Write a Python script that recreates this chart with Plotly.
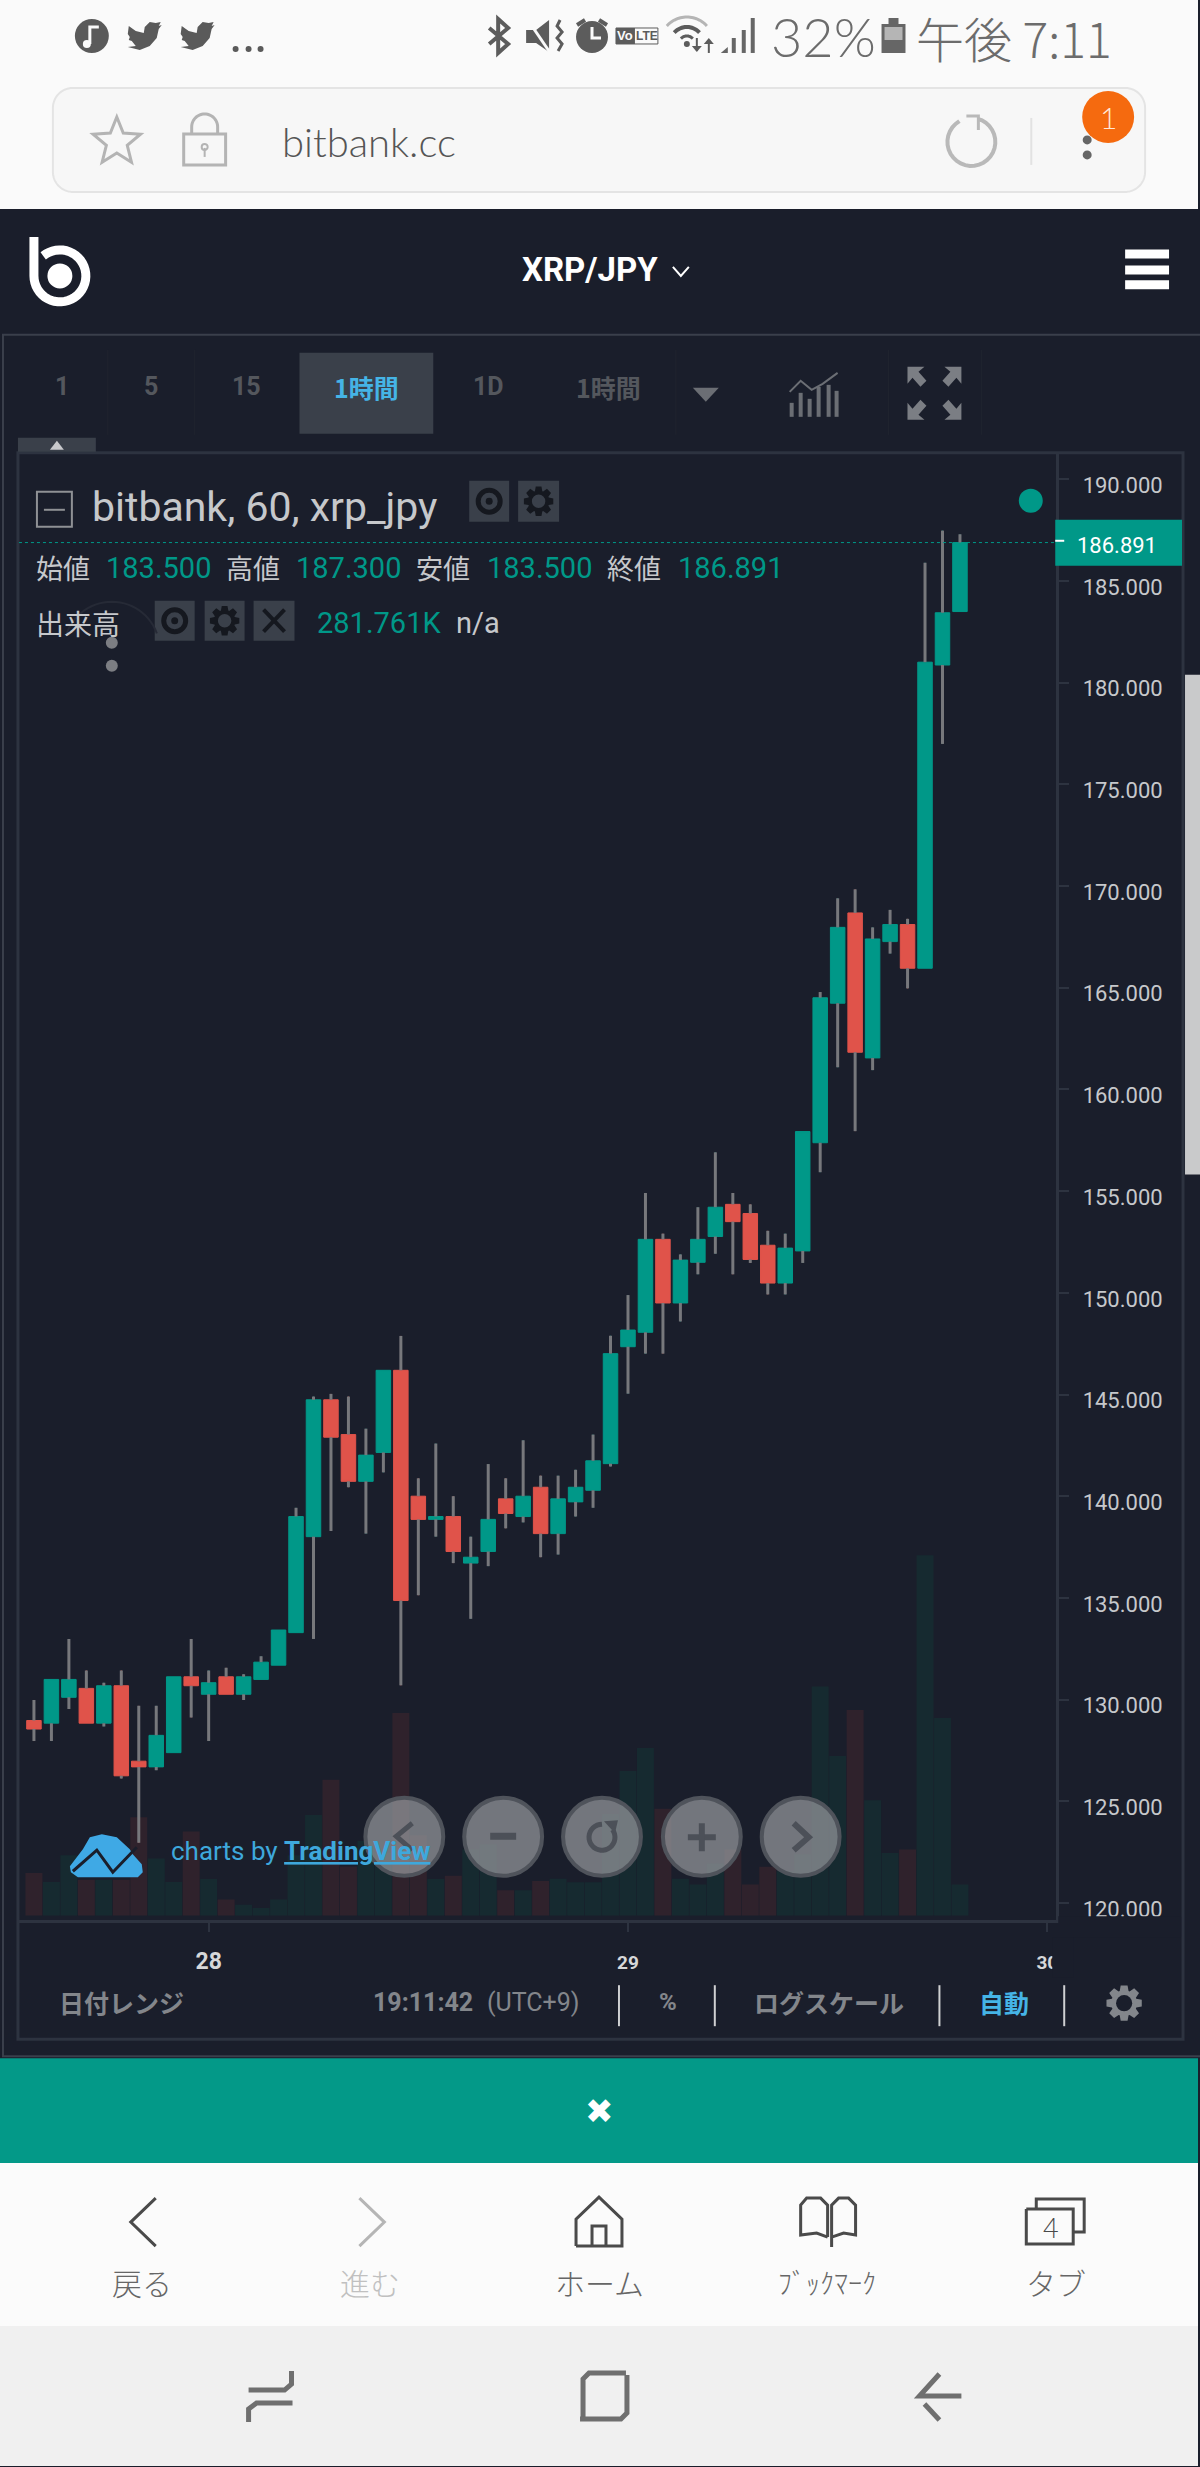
import math
import plotly.graph_objects as go

# candles (1h, xrp_jpy)
opens = [128.97, 128.84, 130.11, 130.55, 128.84, 130.68, 126.97, 126.69, 127.39, 131.12,
         130.26, 131.12, 130.26, 130.99, 131.69, 133.29, 138.01, 144.74, 143.03, 140.73,
         142.15, 146.19, 140.00, 138.86, 139.00, 136.71, 137.28, 139.87, 139.00, 140.44,
         138.16, 139.72, 140.29, 141.60, 147.35, 148.06, 152.63, 149.50, 151.50, 152.77,
         154.35, 153.90, 152.34, 150.48, 152.06, 157.38, 164.24, 168.68, 161.55, 167.27,
         168.11, 165.96, 180.87, 183.50]
highs = [129.98, 130.99, 132.98, 131.43, 130.83, 131.43, 129.69, 129.69, 131.12, 132.98,
         131.43, 131.56, 131.25, 132.13, 133.42, 139.43, 144.90, 145.03, 144.90, 143.32,
         146.19, 147.88, 140.88, 142.59, 140.00, 138.01, 141.58, 140.88, 142.75, 141.01,
         141.01, 141.30, 143.03, 147.89, 149.89, 154.91, 152.91, 151.89, 154.21, 156.91,
         154.91, 154.35, 153.05, 152.91, 157.93, 164.79, 169.40, 169.84, 167.97, 168.83,
         168.39, 185.90, 187.48, 187.30]
lows = [127.96, 127.96, 129.54, 128.84, 128.68, 126.12, 122.96, 126.53, 127.39, 129.12,
        127.96, 130.26, 129.98, 130.99, 131.69, 133.29, 132.98, 138.29, 140.44, 138.16,
        141.17, 130.70, 135.13, 138.01, 136.71, 133.97, 136.56, 138.42, 138.71, 137.00,
        137.13, 139.00, 139.43, 141.46, 145.04, 147.01, 147.01, 148.59, 150.91, 151.92,
        150.91, 151.47, 149.92, 149.92, 151.47, 155.93, 161.09, 157.95, 160.95, 166.68,
        164.97, 165.96, 176.99, 183.50]
closes = [128.55, 130.99, 130.99, 128.84, 130.68, 126.25, 126.69, 128.24, 131.12, 130.68,
          130.83, 130.26, 131.12, 131.84, 133.42, 139.00, 144.74, 142.90, 140.73, 142.02,
          146.19, 134.87, 138.86, 139.00, 137.28, 137.00, 138.86, 139.15, 140.00, 138.16,
          139.87, 140.44, 141.74, 147.01, 148.17, 152.63, 149.50, 151.61, 152.63, 154.21,
          153.50, 151.64, 150.48, 152.20, 157.93, 164.51, 167.97, 161.83, 167.40, 168.11,
          165.96, 181.01, 183.44, 186.891]
volumes = [386, 304, 548, 325, 325, 325, 893, 519, 304, 763, 333, 146, 97, 69, 146, 548, 913, 1234,
           446, 678, 568, 1842, 730, 333, 361, 601, 649, 230, 230, 313, 334, 303, 303, 924, 1315,
           1524, 971, 334, 282, 470, 600, 282, 444, 402, 558, 2082, 1451, 1868, 1049, 569, 600,
           3277, 1795, 281.761]

price_ticks = [120, 125, 130, 135, 140, 145, 150, 155, 160, 165, 170, 175, 180, 185, 190]
day_ticks = [10, 34, 58]
day_labels = ['<span style="font-size:23px">28</span>', "29", "30"]

W, H = 1200, 2467
BG = "#1a1e2b"
TEAL = "#009888"
RED = "#e0534a"
WICK = "#77787c"
FRAME = "#2d3340"
TXT = "#c6c8cb"
BLUE = "#45b4e6"
BTN = "#3a404a"
JP = "Noto Sans CJK JP"

x_idx = list(range(len(closes)))

# grey wicks go on top of the candle bodies
wick_x, wick_y = [], []
for i in x_idx:
    wick_x += [i, i, None, i, i, None]
    wick_y += [highs[i], max(opens[i], closes[i]), None, min(opens[i], closes[i]), lows[i], None]

vol_colors = ["#162a30" if c >= o else "#2f222c" for o, c in zip(opens, closes)]

fig = go.Figure()
fig.add_trace(go.Bar(x=x_idx, y=volumes, marker_color=vol_colors, marker_line_width=0, yaxis="y"))
fig.add_trace(go.Candlestick(
    x=x_idx, open=opens, high=highs, low=lows, close=closes, yaxis="y2", whiskerwidth=0,
    increasing=dict(line=dict(color=TEAL, width=1), fillcolor=TEAL),
    decreasing=dict(line=dict(color=RED, width=1), fillcolor=RED),
))
fig.add_trace(go.Scatter(x=wick_x, y=wick_y, mode="lines", yaxis="y2",
                         line=dict(color=WICK, width=3)))

shapes = []
notes = []


def P(x, y):
    return f"{x / W:.5f} {1 - y / H:.5f}"


def rect(x0, y0, x1, y1, fill=None, line=None, width=1, layer="above"):
    shapes.append(dict(type="rect", xref="paper", yref="paper", x0=x0 / W, x1=x1 / W,
                       y0=1 - y0 / H, y1=1 - y1 / H, fillcolor=fill or "rgba(0,0,0,0)", layer=layer,
                       line=dict(color=line or "rgba(0,0,0,0)", width=width if line else 0)))


def circle(cx, cy, r, fill=None, line=None, width=1, layer="above"):
    shapes.append(dict(type="circle", xref="paper", yref="paper", x0=(cx - r) / W, x1=(cx + r) / W,
                       y0=1 - (cy - r) / H, y1=1 - (cy + r) / H, fillcolor=fill or "rgba(0,0,0,0)",
                       layer=layer, line=dict(color=line or "rgba(0,0,0,0)", width=width if line else 0)))


def poly(pts, fill=None, line=None, width=1, closed=False, layer="above"):
    d = "M " + " L ".join(P(x, y) for x, y in pts) + (" Z" if closed else "")
    shapes.append(dict(type="path", xref="paper", yref="paper", path=d, layer=layer,
                       fillcolor=fill or "rgba(0,0,0,0)",
                       line=dict(color=line or "rgba(0,0,0,0)", width=width if line else 0)))


def arc(cx, cy, r, a0, a1, n=28):
    return [(cx + r * math.cos(math.radians(a0 + (a1 - a0) * k / n)),
             cy + r * math.sin(math.radians(a0 + (a1 - a0) * k / n))) for k in range(n + 1)]


def label(x, y, text, size, color=TXT, anchor="left", font="Roboto", weight=None):
    f = dict(size=size, color=color, family=font)
    if weight:
        f["weight"] = weight
    notes.append(dict(x=x / W, y=1 - y / H, xref="paper", yref="paper", text=text, showarrow=False,
                      xanchor=anchor, yanchor="middle", borderpad=0, font=f))


def gear(cx, cy, r, color, inner):
    pts = []
    for k in range(8):
        a = k * 45
        pts += [(cx + r * math.cos(math.radians(a + d)), cy + r * math.sin(math.radians(a + d)))
                for d in (-11, 11)]
        pts += [(cx + r * .72 * math.cos(math.radians(a + d)), cy + r * .72 * math.sin(math.radians(a + d)))
                for d in (20, 25)]
    poly(pts, fill=color, closed=True)
    circle(cx, cy, r * .45, fill=inner)


def eye_btn(x0, y0, x1, y1):
    rect(x0, y0, x1, y1, fill=BTN)
    cx, cy = (x0 + x1) / 2, (y0 + y1) / 2
    circle(cx, cy, 11, line="#15181f", width=5)
    circle(cx, cy, 3.5, fill="#15181f")


def gear_btn(x0, y0, x1, y1):
    rect(x0, y0, x1, y1, fill=BTN)
    gear((x0 + x1) / 2, (y0 + y1) / 2, 15, "#15181f", BTN)


def bird(x, y, color="#5a5a5a"):
    pts = [(-17, 12), (-9, 11), (-13, 6), (-16, 5), (-15, 2), (-17, -1), (-16, -9), (-9, -4), (-1, -2),
           (0, -8), (5, -13), (11, -12), (16, -13), (14, -9), (17, -10), (14, -6), (12, 3), (5, 11),
           (-5, 15)]
    poly([(x + a, y + b) for a, b in pts], fill=color, closed=True)


# page background bands
rect(0, 0, W, 209, fill="#fafafa", layer="below")
rect(0, 2059, W, 2164, fill="#039988", layer="below")
rect(0, 2164, W, 2327, fill="#fbfbfb", layer="below")
rect(0, 2327, W, H, fill="#f0f0f0", layer="below")
rect(3, 335, W + 5, 2057, line="#3a3f4b", width=2, layer="below")
rect(18, 453, 1185, 2040, line=FRAME, width=3, layer="below")

# status bar
circle(92, 36, 17, fill="#5a5a5a")
poly([(90, 44), (90, 27), (99, 27)], line="#fafafa", width=3)
circle(87, 44, 4, fill="#fafafa")
bird(145, 35)
bird(198, 35)
for dx in (236, 249, 261):
    circle(dx, 49, 3, fill="#5a5a5a")
poly([(490, 28), (509, 44), (499, 53), (499, 19), (509, 28), (490, 44)], line="#5c5c5c", width=4)
poly([(527, 30), (537, 30), (550, 20), (550, 52), (537, 43), (527, 43)], fill="#5c5c5c", closed=True)
poly([(530, 22), (552, 54)], line="#fafafa", width=3)
poly([(561, 20), (558, 26), (563, 32), (558, 38), (563, 44), (559, 51)], line="#5c5c5c", width=3)
circle(593, 37, 16, fill="#5c5c5c")
poly([(593, 27), (593, 38), (602, 38)], line="#fafafa", width=3)
poly([(578, 25), (586, 20)], line="#5c5c5c", width=4)
poly([(600, 20), (608, 25)], line="#5c5c5c", width=4)
rect(617, 28, 659, 44, fill="#fafafa", line="#5c5c5c", width=1)
rect(617, 28, 636, 44, fill="#5c5c5c")
label(626.5, 36, "<b>Vo</b>", 13, "#fafafa", "center", "Liberation Sans")
label(648, 36, "<b>LTE</b>", 12, "#5c5c5c", "center", "Liberation Sans")
poly(arc(688, 44, 27, 222, 318), line="#b5b5b5", width=3)
poly(arc(688, 44, 17, 222, 318), line="#5c5c5c", width=4)
poly(arc(688, 44, 8, 222, 318), line="#5c5c5c", width=3)
circle(688, 44, 3, fill="#5c5c5c")
poly([(698, 38), (698, 51)], line="#5c5c5c", width=2)
poly([(693, 46), (698, 52), (703, 46)], fill="#5c5c5c", closed=True)
poly([(710, 42), (710, 53)], line="#5c5c5c", width=2)
poly([(705, 44), (710, 38), (715, 44)], fill="#5c5c5c", closed=True)
poly([(722, 53), (729, 53), (729, 47)], fill="#666", closed=True)
for sx, top in ((735, 38), (745, 30), (754, 18)):
    poly([(sx, 53), (sx, top)], line="#666", width=4)
label(771, 37, "32%", 54, "#6c6c6c", "left", "Lato", 300)
rect(883, 24, 907, 53, fill="#666")
rect(890, 18, 900, 24, fill="#666")
rect(886, 27, 904, 40, fill="#b5b5b5")
label(917, 37, "午後 7:11", 48, "#6c6c6c", "left", JP, 300)

# address bar
shapes.append(dict(type="path", xref="paper", yref="paper", fillcolor="#f7f7f7", layer="below",
                   line=dict(color="#e4e4e4", width=2),
                   path="M " + " L ".join(P(x, y) for x, y in
                                          arc(73, 108, 20, 180, 270) + arc(1127, 108, 20, 270, 360) +
                                          arc(1127, 172, 20, 0, 90) + arc(73, 172, 20, 90, 180)) + " Z"))
star = []
for k in range(10):
    r = 25 if k % 2 == 0 else 11
    star.append((117 + r * math.cos(math.radians(-90 + k * 36)), 142 + r * math.sin(math.radians(-90 + k * 36))))
poly(star, line="#b4b4b4", width=3, closed=True)
rect(184, 134, 226, 165, line="#b4b4b4", width=3)
poly([(192, 134), (192, 127)] + arc(205, 127, 13, 180, 360) + [(218, 134)], line="#b4b4b4", width=3)
poly([(205, 148), (205, 157)], line="#b4b4b4", width=2)
circle(205, 147, 3, line="#b4b4b4", width=2)
label(281, 142, "bitbank.cc", 40, "#555555", "left", "Lato", 300)
poly(arc(973, 142, 24, -75, 240), line="#b9b9b9", width=4)
poly([(968, 116), (980, 116), (980, 130)], line="#b9b9b9", width=3)
poly([(1033, 118), (1033, 165)], line="#e2e2e2", width=2)
circle(1089, 140, 4.5, fill="#666")
circle(1089, 155, 4.5, fill="#666")
circle(1110, 117, 26, fill="#f56a0f")
label(1110, 117, "1", 30, "#ffe7d8", "center", "Lato", 300)

# site header
poly([(34, 237), (34, 276)] + arc(60, 276, 26, 180, -130, 40), line="#ffffff", width=9)
circle(60, 276, 12.5, fill="#ffffff")
label(591, 270, "<b>XRP/JPY</b>", 33, "#ffffff", "center", "Roboto")
poly([(674, 267), (682, 276), (690, 267)], line="#ffffff", width=2)
for yy in (254, 270, 285):
    poly([(1127, yy), (1171, yy)], line="#ffffff", width=9)

# interval toolbar
for sx in (108, 195, 677, 890, 983):
    poly([(sx, 350), (sx, 435)], line="#20242f", width=1)
rect(300, 353, 434, 434, fill=BTN)
GREY_T = "#54575d"
label(62, 387, "<b>1</b>", 25, GREY_T, "center")
label(151, 387, "<b>5</b>", 25, GREY_T, "center")
label(247, 387, "<b>15</b>", 25, GREY_T, "center")
label(367, 387, "<b>1時間</b>", 25, BLUE, "center", JP)
label(489, 387, "<b>1D</b>", 25, GREY_T, "center")
label(610, 387, "<b>1時間</b>", 25, GREY_T, "center", JP)
poly([(694, 388), (720, 388), (707, 402)], fill="#6b6e74", closed=True)
for bx, bh in ((793, 14), (802, 24), (811, 18), (820, 30), (830, 32), (838, 26)):
    poly([(bx, 417), (bx, 417 - bh)], line="#6b6e74", width=4)
poly([(791, 392), (802, 381), (813, 390), (824, 384), (839, 373)], line="#6b6e74", width=2)
for ax, ay, sx, sy in ((909, 367, 1, 1), (963, 367, -1, 1), (909, 420, 1, -1), (963, 420, -1, -1)):
    poly([(ax, ay), (ax + 17 * sx, ay), (ax + 11 * sx, ay + 5 * sy), (ax + 19 * sx, ay + 14 * sy),
          (ax + 13 * sx, ay + 20 * sy), (ax + 5 * sx, ay + 11 * sy), (ax, ay + 17 * sy)],
         fill="#7b7e84", closed=True)
rect(18, 438, 96, 452, fill=BTN)
poly([(50, 450), (64, 450), (57, 441)], fill="#c8c9cc", closed=True)

# legend rows
rect(37, 492, 72, 527, line="#8f9195", width=2)
poly([(44, 510), (65, 510)], line="#8f9195", width=2)
label(91, 507, "bitbank, 60, xrp_jpy", 41, TXT)
eye_btn(470, 481, 510, 522)
gear_btn(519, 481, 560, 522)
circle(1032.5, 501, 12, fill=TEAL)

label(35, 568, "始値", 27, TXT, "left", JP)
label(105, 568, "183.500", 29, TEAL)
label(225, 568, "高値", 27, TXT, "left", JP)
label(295, 568, "187.300", 29, TEAL)
label(416, 568, "安値", 27, TXT, "left", JP)
label(487, 568, "183.500", 29, TEAL)
label(607, 568, "終値", 27, TXT, "left", JP)
label(678, 568, "186.891", 29, TEAL)
label(35, 623, "出来高", 28, TXT, "left", JP)
eye_btn(155, 601, 195, 641)
gear_btn(205, 601, 245, 641)
rect(254, 601, 295, 641, fill=BTN)
poly([(264, 610), (285, 632)], line="#15181f", width=4)
poly([(285, 610), (264, 632)], line="#15181f", width=4)
label(317, 623, "281.761K", 29, TEAL)
label(456, 623, "n/a", 29, TXT)
poly(arc(112, 650, 48, 200, 340), line="#262a36", width=2)
circle(112, 643, 6, fill="#7c7e83")
circle(112, 666, 6, fill="#7c7e83")

# last price line and tag
shapes.append(dict(type="line", xref="paper", yref="y2", x0=19 / W, x1=1058 / W,
                   y0=closes[-1], y1=closes[-1], layer="above",
                   line=dict(color=TEAL, width=1, dash="dot")))
rect(1057, 520, 1184, 566, fill=TEAL)
poly([(1057, 541), (1066, 541)], line="#ffffff", width=2)
label(1078, 546, "186.891", 22, "#ffffff")

# scroll handle at the page edge
rect(1187, 675, 1210, 1175, fill="#c9cacb", layer="above")

# clip the lowest price label and the 30 label like the original
rect(1060, 1917, 1183, 1938, fill=BG)
rect(1054, 1938, 1075, 1978, fill=BG)

# TradingView mark
cloud = [(70, 1867), (83, 1850), (90, 1838), (102, 1835), (117, 1838), (130, 1850), (133, 1855),
         (142, 1865), (143, 1873), (138, 1878), (78, 1878), (71, 1873)]
poly(cloud, fill="#3fa9e5", closed=True)
poly([(73, 1872), (97, 1851), (113, 1873), (137, 1848)], line=BG, width=3)
label(170, 1852, "charts by <b><u>TradingView</u></b>", 26, "#3ea8dc")

# chart nav buttons
BTN_ICON = "#4c5058"
for cx in (405, 504, 603, 703, 802):
    circle(cx, 1837.5, 39, fill="rgba(150,152,156,0.72)", line="#4f535b", width=4)
poly([(413, 1824), (397, 1837), (413, 1851)], line=BTN_ICON, width=5)
poly([(491, 1837), (517, 1837)], line=BTN_ICON, width=7)
poly(arc(603, 1838, 13, -35, 270), line=BTN_ICON, width=5)
poly([(605, 1822), (619, 1821), (616, 1834)], fill=BTN_ICON, closed=True)
poly([(689, 1838), (717, 1838)], line=BTN_ICON, width=6)
poly([(703, 1824), (703, 1852)], line=BTN_ICON, width=6)
poly([(795, 1824), (810, 1838), (795, 1851)], line=BTN_ICON, width=6)

# bottom bar of the chart
label(58, 2003, "<b>日付レンジ</b>", 25, "#83868b", "left", JP)
label(373, 2003, "<b>19:11:42</b>", 25, "#83868b")
label(487, 2003, "(UTC+9)", 25, "#83868b")
for sx in (620, 716, 941, 1066):
    poly([(sx, 1986), (sx, 2027)], line="#cfd0d2", width=2)
label(669, 2003, "<b>%</b>", 24, "#83868b", "center")
label(754, 2003, "<b>ログスケール</b>", 25, "#83868b", "left", JP)
label(1006, 2003, "<b>自動</b>", 25, BLUE, "center", JP)
gear(1126, 2004, 18, "#83868b", BG)

# close bar
label(601, 2112, "✖", 34, "#ffffff", "center", "DejaVu Sans")

# browser nav
poly([(156, 2199), (131, 2223), (156, 2247)], line="#4a4a4a", width=3)
poly([(360, 2199), (385, 2223), (360, 2247)], line="#b5b5b5", width=3)
poly([(577, 2247), (577, 2220), (600, 2198), (623, 2220), (623, 2247), (577, 2247)], line="#4a4a4a", width=3)
poly([(593, 2247), (593, 2227), (607, 2227), (607, 2247)], line="#4a4a4a", width=3)
poly([(829, 2238), (818, 2234), (802, 2236), (802, 2206), (808, 2199), (822, 2199), (829, 2206), (829, 2238)],
     line="#4a4a4a", width=3)
poly([(833, 2248), (833, 2206), (840, 2199), (850, 2199), (857, 2206), (857, 2236), (845, 2234), (833, 2238)],
     line="#4a4a4a", width=3)
poly([(1028, 2210), (1028, 2245), (1075, 2245), (1075, 2210), (1028, 2210)], line="#4a4a4a", width=3)
poly([(1038, 2210), (1038, 2200), (1086, 2200), (1086, 2233), (1075, 2233)], line="#4a4a4a", width=3)
label(1053, 2228, "4", 27, "#4a4a4a", "center", "Lato", 300)
label(142, 2283, "戻る", 30, "#666666", "center", JP, 300)
label(371, 2283, "進む", 30, "#c0c0c0", "center", JP, 300)
label(600, 2283, "ホーム", 30, "#666666", "center", JP, 300)
label(828, 2283, "ﾌﾞｯｸﾏｰｸ", 28, "#666666", "center", JP, 300)
label(1058, 2283, "タブ", 30, "#666666", "center", JP, 300)

# system nav
SYS = "#6f6f6f"
poly([(292, 2372), (292, 2385), (285, 2391), (249, 2391)], line=SYS, width=5)
poly([(293, 2404), (257, 2404), (249, 2410), (249, 2423)], line=SYS, width=5)
poly([(627, 2374), (590, 2374), (584, 2380), (584, 2420)], line=SYS, width=5)
poly([(581, 2420), (622, 2420), (628, 2414), (628, 2376)], line=SYS, width=5)
poly([(941, 2375), (921, 2397), (963, 2397)], line=SYS, width=5)
poly([(926, 2405), (941, 2421)], line=SYS, width=5)

fig.update_layout(
    width=W, height=H, margin=dict(l=0, r=0, t=0, b=0), showlegend=False, hovermode=False,
    paper_bgcolor=BG, plot_bgcolor="rgba(0,0,0,0)", bargap=0.03, boxgap=0.17, boxgroupgap=0,
    shapes=shapes, annotations=notes,
    font=dict(family="Roboto", color=TXT),
    xaxis=dict(domain=[19 / W, 1058 / W], range=[-0.857, 58.51], rangeslider=dict(visible=False),
               tickmode="array", tickvals=day_ticks, ticktext=day_labels, ticks="outside", ticklen=9,
               tickwidth=2, tickcolor=FRAME, showgrid=False, zeroline=False, showline=True,
               linecolor=FRAME, linewidth=3, tickangle=0, ticklabelstandoff=14,
               tickfont=dict(size=19, color="#d6d7d9", family="Roboto", weight="bold")),
    yaxis=dict(domain=[(H - 1921) / H, (H - 453.5) / H], range=[-43, 13297], visible=False,
               showgrid=False, zeroline=False),
    yaxis2=dict(overlaying="y", anchor="x", side="right", range=[119.15, 191.28], tickmode="array",
                tickvals=price_ticks, tickformat=".3f", ticks="outside", ticklen=10, tickwidth=2,
                tickcolor=FRAME, showgrid=False, zeroline=False, showline=True, linecolor=FRAME,
                linewidth=3, ticklabelstandoff=9, ticklabelshift=6,
                tickfont=dict(size=22, color=TXT, family="Roboto")),
)

fig.write_html("out.html", config=dict(displayModeBar=False),
               post_script="document.body.style.margin='0';")
